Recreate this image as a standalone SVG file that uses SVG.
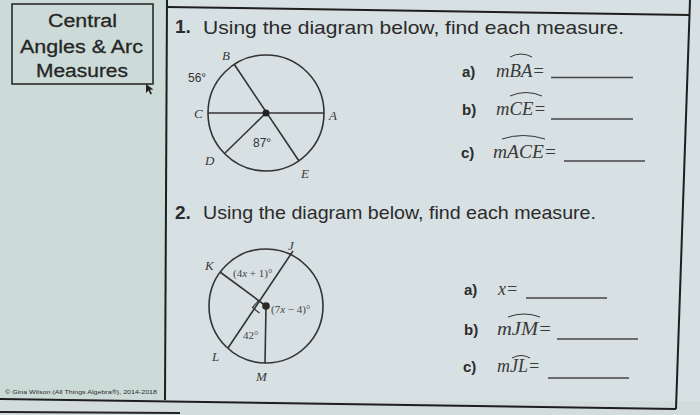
<svg xmlns="http://www.w3.org/2000/svg" width="700" height="415" viewBox="0 0 700 415">
<defs>
<style>
.ln{stroke:#1e1e1e;stroke-width:2;fill:none}
.thin{stroke:#333;stroke-width:1.6;fill:none}
.ul{stroke:#444;stroke-width:1.3}
.arc{stroke:#333;stroke-width:1;fill:none}
.hd{font-family:"Liberation Sans",Arial,sans-serif;fill:#2b2b2b}
.ttl{font-family:"Liberation Sans",Arial,sans-serif;font-size:18px;fill:#262626;stroke:#262626;stroke-width:0.3;text-anchor:start}
.lb{font-family:"Liberation Sans",Arial,sans-serif;font-size:15px;font-weight:bold;fill:#2b2b2b}
.mth{font-family:"Liberation Serif","Times New Roman",serif;font-style:italic;font-size:18px;fill:#3a3a3a}
.pt{font-family:"Liberation Serif","Times New Roman",serif;font-style:italic;font-size:13px;fill:#3a3a3a}
.deg{font-family:"Liberation Sans",Arial,sans-serif;font-size:12px;fill:#333}
.deg2{font-family:"Liberation Serif","Times New Roman",serif;font-size:11px;fill:#444}
</style>
</defs>
<rect x="0" y="0" width="700" height="415" fill="#d7e0e2"/>
<rect x="0" y="0" width="166" height="400" fill="#cddbd8"/>
<rect x="0" y="401" width="700" height="14" fill="#d3dcdc"/>

<g id="frame">
<line class="ln" x1="167" y1="0" x2="165" y2="400"/>
<line class="ln" x1="167" y1="7" x2="690" y2="15"/>
<line class="ln" x1="690" y1="0" x2="676" y2="409"/>
<line class="ln" x1="0" y1="399" x2="676" y2="409"/>
<line x1="0" y1="412" x2="180" y2="413" stroke="#222" stroke-width="2"/>
</g>

<g id="title">
<rect x="12" y="4" width="141" height="80" fill="none" stroke="#2a2a2a" stroke-width="1.6"/>
<text class="ttl" x="48" y="27" textLength="69" lengthAdjust="spacingAndGlyphs">Central</text>
<text class="ttl" x="20" y="53" textLength="123" lengthAdjust="spacingAndGlyphs">Angles &amp; Arc</text>
<text class="ttl" x="36" y="77" textLength="92" lengthAdjust="spacingAndGlyphs">Measures</text>
<path d="M146 84 L146 93 L148.5 90.5 L150.5 94.5 L152 93.8 L150 89.8 L153.5 89.5 Z" fill="#222"/>
</g>

<text class="hd" x="5" y="394" font-size="5.5" fill="#555" textLength="152" lengthAdjust="spacingAndGlyphs">© Gina Wilson (All Things Algebra®), 2014-2018</text>

<g id="problem1">
<text class="hd" x="175" y="33" font-size="19" font-weight="bold">1.</text>
<text class="hd" x="203" y="34" font-size="19" textLength="421" lengthAdjust="spacingAndGlyphs">Using the diagram below, find each measure.</text>
<g id="circle1">
<circle class="thin" cx="266" cy="113" r="58"/>
<line class="thin" x1="208" y1="113" x2="324" y2="113"/>
<line class="thin" x1="234" y1="64" x2="299" y2="161"/>
<line class="thin" x1="266" y1="113" x2="225" y2="153"/>
<circle cx="266" cy="113" r="3.5" fill="#222"/>
<text class="pt" x="222" y="60">B</text>
<text class="deg" x="188" y="82">56°</text>
<text class="pt" x="194" y="118">C</text>
<text class="pt" x="329" y="120">A</text>
<text class="deg" x="253" y="147">87°</text>
<text class="pt" x="205" y="165">D</text>
<text class="pt" x="301" y="178">E</text>
</g>
<g id="answers1">
<text class="lb" x="462" y="77">a)</text>
<text class="mth" x="496" y="77" textLength="49" lengthAdjust="spacingAndGlyphs">mBA=</text>
<path class="arc" d="M510 57 Q521 51 532 57"/>
<line class="ul" x1="551" y1="77.5" x2="633" y2="77.5"/>
<text class="lb" x="462" y="115">b)</text>
<text class="mth" x="496" y="115" textLength="50" lengthAdjust="spacingAndGlyphs">mCE=</text>
<path class="arc" d="M510 96 Q526 89 542 96"/>
<line class="ul" x1="551" y1="119" x2="633" y2="119"/>
<text class="lb" x="461" y="158">c)</text>
<text class="mth" x="493" y="158" textLength="64" lengthAdjust="spacingAndGlyphs">mACE=</text>
<path class="arc" d="M502 139 Q523 132 545 139"/>
<line class="ul" x1="564" y1="161" x2="645" y2="161"/>
</g>
</g>

<g id="problem2">
<text class="hd" x="175" y="219" font-size="19" font-weight="bold">2.</text>
<text class="hd" x="203" y="219" font-size="19" textLength="393" lengthAdjust="spacingAndGlyphs">Using the diagram below, find each measure.</text>
<g id="circle2">
<circle class="thin" cx="266" cy="306" r="57"/>
<line class="thin" x1="293" y1="251" x2="228" y2="348"/>
<line class="thin" x1="266" y1="306" x2="220" y2="272"/>
<line class="thin" x1="266" y1="306" x2="265" y2="363"/>
<path d="M258.5 300.5 L252.5 307.5 L259.5 313" fill="none" stroke="#333" stroke-width="1.1"/>
<circle cx="266" cy="306" r="3.8" fill="#2a2a2a"/>
<text class="pt" x="288" y="250">J</text>
<text class="pt" x="205" y="270">K</text>
<text class="deg2" x="233" y="277">(4<tspan font-style="italic">x</tspan> + 1)°</text>
<text class="deg2" x="271" y="313">(7<tspan font-style="italic">x</tspan> − 4)°</text>
<text class="deg2" x="243" y="339">42°</text>
<text class="pt" x="212" y="361">L</text>
<text class="pt" x="256" y="381">M</text>
</g>
<g id="answers2">
<text class="lb" x="464" y="295">a)</text>
<text class="mth" x="498" y="295" textLength="20" lengthAdjust="spacingAndGlyphs">x=</text>
<line class="ul" x1="526" y1="298" x2="607" y2="298"/>
<text class="lb" x="464" y="335">b)</text>
<text class="mth" x="497" y="335" textLength="55" lengthAdjust="spacingAndGlyphs">mJM=</text>
<path class="arc" d="M508 317 Q524 311 540 317"/>
<line class="ul" x1="557" y1="339" x2="638" y2="339"/>
<text class="lb" x="463" y="372">c)</text>
<text class="mth" x="497" y="372" textLength="43" lengthAdjust="spacingAndGlyphs">mJL=</text>
<path class="arc" d="M512 358 Q521 353 530 358"/>
<line class="ul" x1="548" y1="378" x2="629" y2="378"/>
</g>
</g>
</svg>
